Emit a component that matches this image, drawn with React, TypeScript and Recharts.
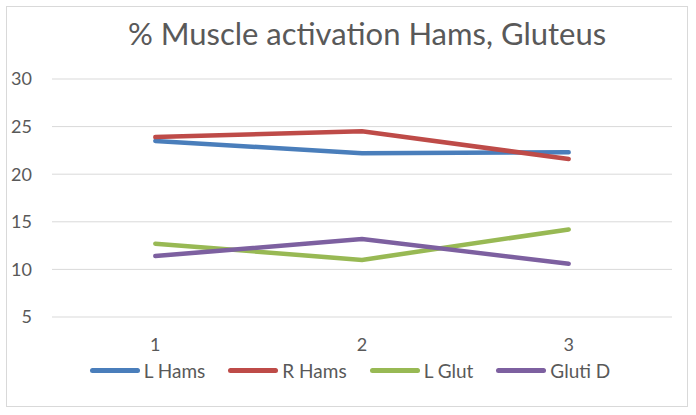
import React from "react";
import { LineChart, Line, XAxis, YAxis, CartesianGrid } from "recharts";

const categories = ["1", "2", "3"];
const lHams = [23.5, 22.2, 22.3];
const rHams = [23.9, 24.5, 21.6];
const lGlut = [12.7, 11.0, 14.2];
const glutiD = [11.4, 13.2, 10.6];
const yTicks = [5, 10, 15, 20, 25, 30];

const SERIES = [
  { key: "lHams", name: "L Hams", color: "#4A7EBB", values: lHams },
  { key: "rHams", name: "R Hams", color: "#BE4B48", values: rHams },
  { key: "lGlut", name: "L Glut", color: "#98B954", values: lGlut },
  { key: "glutiD", name: "Gluti D", color: "#7D60A0", values: glutiD },
];

const FONT = "Lato, 'Open Sans', sans-serif";
const TEXT = "#595959";

export default function App() {
  const data = categories.map((c, i) => {
    const row: Record<string, string | number> = { name: c };
    SERIES.forEach((s) => {
      row[s.key] = s.values[i];
    });
    return row;
  });

  return (
    <div
      style={{
        position: "absolute",
        left: 0,
        top: 0,
        width: 696,
        height: 415,
        background: "#fff",
        fontFamily: FONT,
      }}
    >
      {/* Frame */}
      <div
        style={{
          position: "absolute",
          left: 6,
          top: 6,
          width: 682,
          height: 401,
          border: "1px solid #D9D9D9",
          boxSizing: "border-box",
        }}
      />

      {/* Title */}
      <div
        style={{
          position: "absolute",
          left: 0,
          top: 12,
          width: 734,
          textAlign: "center",
          fontSize: 31,
          color: TEXT,
          lineHeight: "42px",
        }}
      >
        % Muscle activation Hams, Gluteus
      </div>

      <div style={{ position: "absolute", left: 0, top: 0 }}>
        <LineChart
          width={696}
          height={415}
          data={data}
          margin={{ top: 79, right: 24, bottom: 58, left: 0 }}
        >
          <CartesianGrid vertical={false} stroke="#D9D9D9" strokeWidth={1} />
          <XAxis
            dataKey="name"
            scale="band"
            axisLine={false}
            tickLine={false}
            tickSize={0}
            tickMargin={21}
            height={40}
            tick={{ fill: TEXT, fontSize: 18, fontFamily: FONT }}
          />
          <YAxis
            domain={[5, 30]}
            ticks={yTicks}
            axisLine={false}
            tickLine={false}
            tickSize={0}
            tickMargin={20}
            width={52}
            tick={{ fill: TEXT, fontSize: 18, fontFamily: FONT }}
          />
          {SERIES.map((s) => (
            <Line
              key={s.key}
              dataKey={s.key}
              name={s.name}
              stroke={s.color}
              strokeWidth={4.5}
              strokeLinecap="round"
              dot={false}
              activeDot={false}
              isAnimationActive={false}
            />
          ))}
        </LineChart>
      </div>

      {/* Legend */}
      <div
        style={{
          position: "absolute",
          left: 0,
          top: 359,
          width: 700,
          display: "flex",
          justifyContent: "center",
          gap: 23,
          fontSize: 19,
          color: TEXT,
        }}
      >
        {SERIES.map((s) => (
          <div key={s.key} style={{ display: "flex", alignItems: "center" }}>
            <div
              style={{
                width: 50,
                height: 5,
                borderRadius: 3,
                background: s.color,
                marginRight: 4,
              }}
            />
            <span>{s.name}</span>
          </div>
        ))}
      </div>
    </div>
  );
}
